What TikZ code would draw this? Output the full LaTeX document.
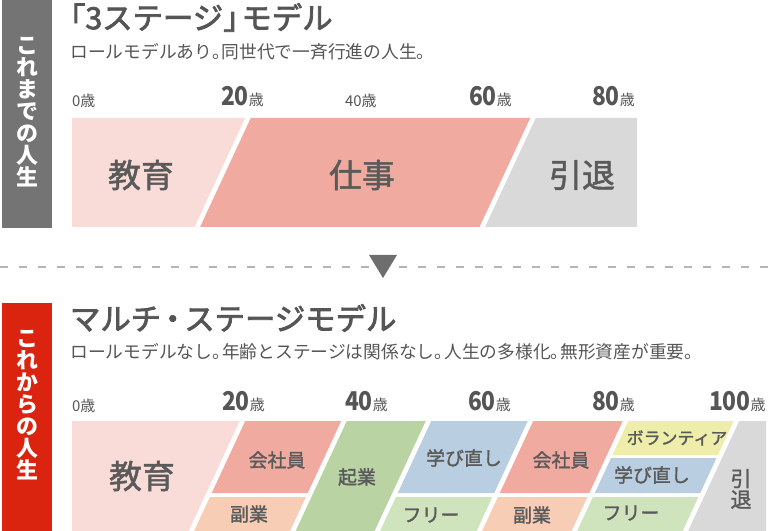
\documentclass[tikz,border=0pt]{standalone}
\usepackage{fontspec}
\usepackage{graphicx}
\setmainfont{Noto Sans CJK JP}
\newfontfamily\jpmb{Noto Sans CJK JP}[FakeBold=2.6]
\newfontfamily\jpsb{Noto Sans CJK JP}[FakeBold=1.5]
\definecolor{txtgray}{HTML}{555555}
\definecolor{blocktxt}{HTML}{5A5A5A}
\definecolor{pinkE}{HTML}{F9DCD8}
\definecolor{salmon}{HTML}{F0AAA0}
\definecolor{grayR}{HTML}{D9D9D9}
\definecolor{peach}{HTML}{F7CDB5}
\definecolor{greenK}{HTML}{BAD3A3}
\definecolor{blueM}{HTML}{B9CEE0}
\definecolor{greenF}{HTML}{CFE3BD}
\definecolor{yellowV}{HTML}{EEEEAA}
\definecolor{boxgray}{HTML}{747474}
\definecolor{boxred}{HTML}{DA2410}
\definecolor{dashgray}{HTML}{B5B5B5}
\definecolor{trigray}{HTML}{6E6E6E}
\newcommand\slopeK{0.465}
\newcommand\gapH{2.75}
% color, left boundary (top x), right boundary (top x), y1, y2, y0
\newcommand\piece[6]{%
  \fill[#1] ({#2+\gapH-\slopeK*(#4-#6)},#4) -- ({#3-\gapH-\slopeK*(#4-#6)},#4)
    -- ({#3-\gapH-\slopeK*(#5-#6)},#5) -- ({#2+\gapH-\slopeK*(#5-#6)},#5) -- cycle;}
\newcommand\fs[1]{\fontsize{#1}{#1}\selectfont}
\newcommand\agebig[1]{{\fs{26}\bfseries\scalebox{0.88}[1]{#1}}{\fs{15}歳}}
\newcommand\maru{。\kern-0.45em}
\begin{document}
\begin{tikzpicture}[x=1bp,y=-1bp,
  every node/.style={inner sep=0pt, outer sep=0pt},
  vlabel/.style={text=white, font=\fs{22}\bfseries, align=center},
  ttl/.style={anchor=west, text=txtgray, font=\fs{30.5}\jpmb},
  subttl/.style={anchor=west, text=txtgray, font=\fs{17.8}},
  agesmall/.style={anchor=base west, text=txtgray, font=\fs{15}},
  ageb/.style={anchor=base west, text=txtgray},
  bigblk/.style={text=blocktxt, font=\fs{33}\jpsb},
  blk/.style={text=blocktxt, font=\fs{19}\jpsb}]
\useasboundingbox (0,0) rectangle (768,531);

% left label boxes
\fill[boxgray] (2,0) rectangle (52,228);
\fill[boxred] (2,303) rectangle (52,531);
\node[vlabel] (lab1) at (27,112) {\baselineskip=24.8bp こ\\れ\\ま\\で\\の\\人\\生};
\node[vlabel] (lab2) at (27,405) {\baselineskip=25.2bp こ\\れ\\か\\ら\\の\\人\\生};

% titles
\node[ttl] (title1) at (55,17.5) {「3ステージ」\kern-0.4emモデル};
\node[subttl] (sub1) at (70.5,52) {ロールモデルあり\maru 同世代で一斉行進の人生。};
\node[ttl] (title2) at (70,318) {マルチ\kern-0.12em・\kern-0.12emステージモデル};
\node[subttl] (sub2) at (70.5,352) {ロールモデルなし\maru 年齢とステージは関係なし\maru 人生の多様化\maru 無形資産が重要。};

% top ages
\node[agesmall] (a0) at (72,107) {{\fs{15}0}歳};
\node[ageb] (a20) at (221,106) {\agebig{20}};
\node[agesmall] (a40) at (345,107) {{\fs{15}40}歳};
\node[ageb] (a60) at (469,106) {\agebig{60}};
\node[ageb] (a80) at (592,106) {\agebig{80}};

% top bar
\fill[pinkE] (72,118) -- ({248-\gapH},118) -- ({248-\gapH-\slopeK*109},227) -- (72,227) -- cycle;
\piece{salmon}{248}{533}{118}{227}{118}
\fill[grayR] ({533+\gapH},118) -- (637,118) -- (637,227) -- ({533+\gapH-\slopeK*109},227) -- cycle;
\node[bigblk] (kyoiku1) at (141,175) {教育};
\node[bigblk] (shigoto) at (362,175) {仕事};
\node[bigblk] (intai1) at (582,175) {引退};

% separator
\draw[dashgray, line width=1.5bp, dash pattern=on 8bp off 11bp] (0,267) -- (768,267);
\fill[trigray] (369,255) -- (397,255) -- (383,278) -- cycle;

% bottom ages
\node[agesmall] (b0) at (72,411) {{\fs{15}0}歳};
\node[ageb] (b20) at (222,410) {\agebig{20}};
\node[ageb] (b40) at (345,410) {\agebig{40}};
\node[ageb] (b60) at (468,410) {\agebig{60}};
\node[ageb] (b80) at (592,410) {\agebig{80}};
\node[ageb] (b100) at (709,410) {\agebig{100}};

% bottom bar
\fill[pinkE] (72,421) -- ({242.5-\gapH},421) -- ({242.5-\gapH-\slopeK*110},531) -- (72,531) -- cycle;
\piece{salmon}{242.5}{344}{421}{493}{421}
\piece{peach}{242.5}{344}{497}{531}{421}
\piece{greenK}{344}{428.5}{421}{531}{421}
\piece{blueM}{428.5}{530.5}{421}{493}{421}
\piece{greenF}{428.5}{530.5}{497}{531}{421}
\piece{salmon}{530.5}{625.5}{421}{493}{421}
\piece{peach}{530.5}{625.5}{497}{531}{421}
\piece{yellowV}{625.5}{736.5}{421}{455}{421}
\piece{blueM}{625.5}{736.5}{458}{493}{421}
\piece{greenF}{625.5}{736.5}{497}{531}{421}
\fill[grayR] ({736.5+\gapH},421) -- (766,421) -- (766,531) -- ({736.5+\gapH-\slopeK*110},531) -- cycle;

\node[bigblk] (kyoiku2) at (142,476) {教育};
\node[blk] (kaisha1) at (277,460) {会社員};
\node[blk] (fuku1) at (249,514) {副業};
\node[blk] (kigyo) at (357,477) {起業};
\node[blk] (manabi1) at (464,458) {学び直し};
\node[blk] (free1) at (431,515) {フリー};
\node[blk] (kaisha2) at (561,460) {会社員};
\node[blk] (fuku2) at (532,515) {副業};
\node[blk, font=\fs{17}\jpsb] (volun) at (677,438) {ボランティア};
\node[blk] (manabi2) at (652,475) {学び直し};
\node[blk] (free2) at (631,513) {フリー};
\node[blk, font=\fs{21}\jpsb, align=center] (intai2) at (741,489) {\baselineskip=22bp 引\\退};
\end{tikzpicture}
\end{document}
